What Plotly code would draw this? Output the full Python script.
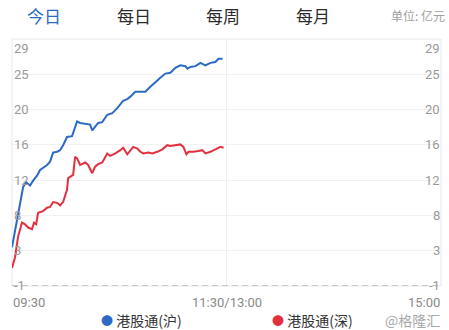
import plotly.graph_objects as go

# ---- data (minutes after 09:30 open, value in 亿元) ----
sh_minutes = [0, 1.7, 4.5, 6.2, 7.9, 10.1, 11.8, 14.0, 15.7, 19.6, 21.3, 23.0, 25.2, 26.9, 28.6,
              30.8, 33.6, 35.3, 36.4, 38.1, 42.1, 43.7, 44.9, 46.5, 48.2, 50.5, 53.3, 56.1, 58.9,
              62.2, 64.5, 66.2, 69.0, 71.8, 74.6, 77.4, 80.2, 83.0, 85.8, 88.6, 91.4, 94.2, 97.0,
              98.1, 99.8, 102.6, 105.4, 108.2, 111.0, 113.8, 115.5, 117.8]
sh_values = [3.7, 5.8, 9.1, 11.0, 11.6, 11.2, 11.8, 12.4, 13.1, 13.7, 14.1, 15.2, 15.3, 15.5, 16.1,
             17.1, 17.2, 18.3, 19.0, 18.8, 18.7, 18.6, 17.9, 18.3, 18.8, 18.9, 19.8, 20.0, 20.6,
             21.5, 21.7, 22.0, 22.6, 22.6, 22.6, 23.2, 23.8, 24.3, 24.8, 24.9, 25.5, 25.8, 25.7,
             25.4, 25.6, 25.7, 26.1, 25.8, 26.1, 26.2, 26.6, 26.6]

sz_minutes = [0, 1.7, 3.4, 5.6, 7.3, 9.0, 11.2, 12.3, 13.5, 14.6, 17.4, 19.6, 21.3, 23.0, 25.2,
              26.9, 28.6, 30.8, 31.4, 33.6, 34.2, 35.3, 36.4, 38.1, 41.0, 42.6, 44.9, 46.5, 48.2,
              50.5, 53.3, 54.9, 57.8, 60.6, 62.2, 64.5, 66.2, 67.8, 70.1, 71.8, 73.5, 76.3, 78.5,
              81.3, 84.1, 86.9, 88.6, 91.4, 94.2, 95.9, 97.6, 98.7, 101.5, 104.3, 106.5, 108.2,
              111.0, 113.8, 116.6, 118.4]
sz_values = [1.2, 2.5, 5.0, 6.7, 6.5, 6.1, 5.9, 6.7, 6.5, 7.9, 8.1, 8.5, 8.6, 9.2, 9.1,
             8.8, 9.2, 10.7, 12.1, 12.4, 12.5, 14.7, 14.5, 13.7, 14.0, 13.7, 12.7, 13.5, 13.8,
             14.0, 15.1, 14.8, 15.1, 15.5, 15.8, 15.0, 15.5, 15.9, 15.7, 15.3, 15.1, 15.2, 15.1,
             15.3, 15.6, 16.1, 16.0, 16.1, 16.2, 15.9, 15.0, 15.3, 15.3, 15.4, 15.5, 15.1,
             15.3, 15.6, 15.9, 15.8]

y_min, y_max = -1, 29
y_tick_values = [y_min + (y_max - y_min) * k / 7 for k in range(8)]
y_tick_labels = ["-1", "3", "8", "12", "16", "20", "25", "29"]
x_tick_values = [0, 120, 240]
x_tick_labels = ["09:30", "11:30/13:00", "15:00"]
series_names = ["港股通(沪)", "港股通(深)"]
tabs = ["今日", "每日", "每周", "每月"]

BLUE = "#2c6ac4"
RED = "#e3303f"
GRAY = "#9a9a9a"
CJK = "Noto Sans CJK SC"

fig = go.Figure()
fig.add_trace(go.Scatter(x=sh_minutes, y=sh_values, mode="lines",
                         line=dict(color=BLUE, width=2), name=series_names[0]))
fig.add_trace(go.Scatter(x=sz_minutes, y=sz_values, mode="lines",
                         line=dict(color=RED, width=2), name=series_names[1]))

annotations = []
# y tick labels, both sides
for v, t in zip(y_tick_values, y_tick_labels):
    top = v == y_tick_values[-1]
    bottom = v == y_tick_values[0]
    for side in (0, 1):
        annotations.append(dict(
            x=side, xref="paper", y=v, yref="y", text=t, showarrow=False,
            xanchor="left" if side == 0 else "right",
            yanchor="top" if top else "middle",
            yshift=-1 if top else (1 if bottom else 0),
            xshift=1 if side == 0 else 0, borderpad=0,
            font=dict(family="Roboto", size=13, color=GRAY)))
# x tick labels
for v, t in zip(x_tick_values, x_tick_labels):
    anchor = "left" if v == x_tick_values[0] else ("right" if v == x_tick_values[-1] else "center")
    annotations.append(dict(x=v, xref="x", y=(286 - 302) / 247, yref="paper", text=t,
                            showarrow=False, xanchor=anchor, yanchor="middle", borderpad=0,
                            font=dict(family="Roboto", size=13, color="#8a8a8a")))
# legend
for name, color, px in zip(series_names, [BLUE, RED], [100, 271]):
    annotations.append(dict(x=(px - 12) / 429, xref="paper", y=(286 - 320) / 247, yref="paper",
                            text=f'<span style="color:{color};font-size:12px">●</span> {name}',
                            showarrow=False, xanchor="left", yanchor="middle", borderpad=0,
                            font=dict(family=CJK, size=14, color="#333333")))
annotations.append(dict(x=1, xref="paper", y=(286 - 320) / 247, yref="paper", text="@格隆汇",
                        showarrow=False, xanchor="right", yanchor="middle", borderpad=0,
                        font=dict(family=CJK, size=14, color="#a8a8a8")))
# header tabs
for t, cx in zip(tabs, [44, 134, 223, 313]):
    annotations.append(dict(x=(cx - 12) / 429, xref="paper", y=(286 - 16) / 247, yref="paper",
                            text=t, showarrow=False, xanchor="center", yanchor="middle",
                            font=dict(family=CJK, size=17,
                                      color=BLUE if t == tabs[0] else "#2a2a2a")))
annotations.append(dict(x=(447 - 12) / 429, xref="paper", y=(286 - 16) / 247, yref="paper",
                        text="单位: 亿元", showarrow=False, xanchor="right", yanchor="middle",
                        font=dict(family=CJK, size=12, color="#a0a0a0")))

shapes = [
    dict(type="line", xref="paper", x0=0, x1=1, yref="y", y0=y_min, y1=y_min,
         line=dict(color="#9c9c9c", width=1, dash="6px,4px")),
    dict(type="rect", xref="paper", yref="paper", x0=0, x1=1, y0=0, y1=1,
         line=dict(color="#e8e8e8", width=1), layer="below"),
]

fig.update_layout(
    width=449, height=330,
    margin=dict(l=12, r=8, t=39, b=44),
    paper_bgcolor="white", plot_bgcolor="white",
    showlegend=False,
    xaxis=dict(range=[0, 240], tickvals=[x_tick_values[1]], showticklabels=False,
               showgrid=True, gridcolor="#efefef", zeroline=False, showline=False),
    yaxis=dict(range=[y_min, y_max], tickvals=y_tick_values, showticklabels=False,
               showgrid=True, gridcolor="#f1f1f1", zeroline=False, showline=False),
    annotations=annotations,
    shapes=shapes,
)

fig.write_html("out.html")
